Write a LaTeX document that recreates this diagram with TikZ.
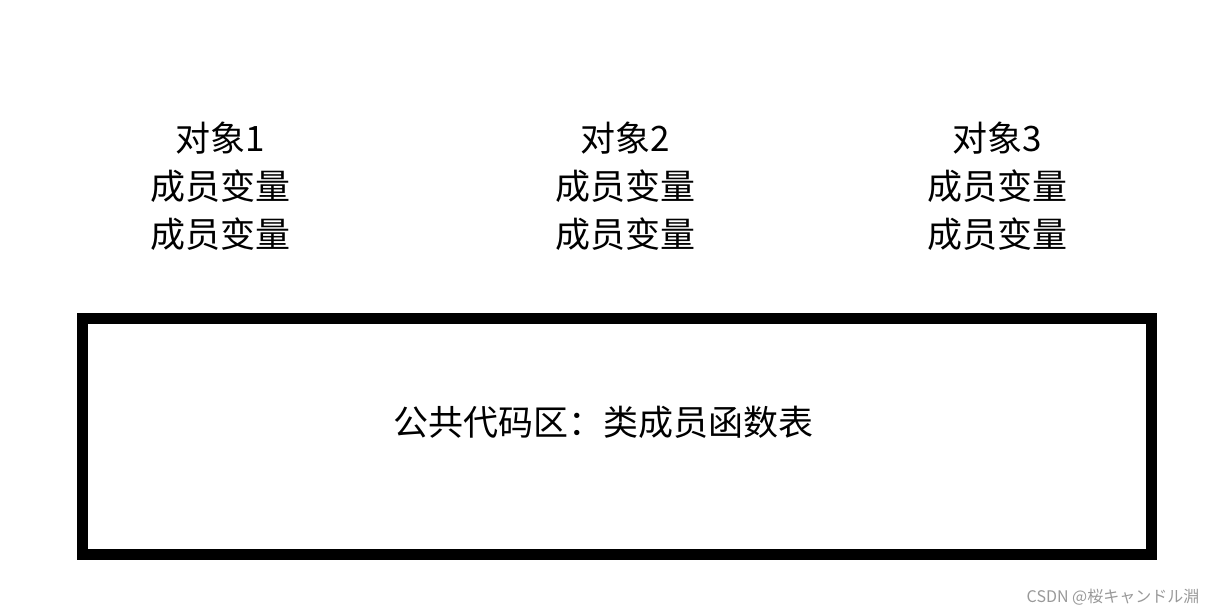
\documentclass[tikz,border=0pt]{standalone}
\usepackage{fontspec}
\setmainfont{Noto Sans CJK SC}
\newfontfamily\jp{Noto Sans CJK JP}
\begin{document}
\begin{tikzpicture}[x=1pt,y=-1pt,
  lbl/.style={font=\fontsize{35}{48}\selectfont,align=center,inner sep=0pt},
  box/.style={draw=black,line width=11pt}]
\useasboundingbox (0,0) rectangle (1218,614);
\node[lbl] (o1) at (220,186) {对象1\\成员变量\\成员变量};
\node[lbl] (o2) at (625,186) {对象2\\成员变量\\成员变量};
\node[lbl] (o3) at (997,186) {对象3\\成员变量\\成员变量};
\draw[box] (82.5,318.5) rectangle (1151.5,554.5);
\node[lbl] (c) at (603,422) {公共代码区：类成员函数表};
\node[font=\jp\fontsize{16}{16}\selectfont,text=gray!80,inner sep=0pt] (w) at (1113,597) {CSDN @桜キャンドル淵};
\end{tikzpicture}
\end{document}
